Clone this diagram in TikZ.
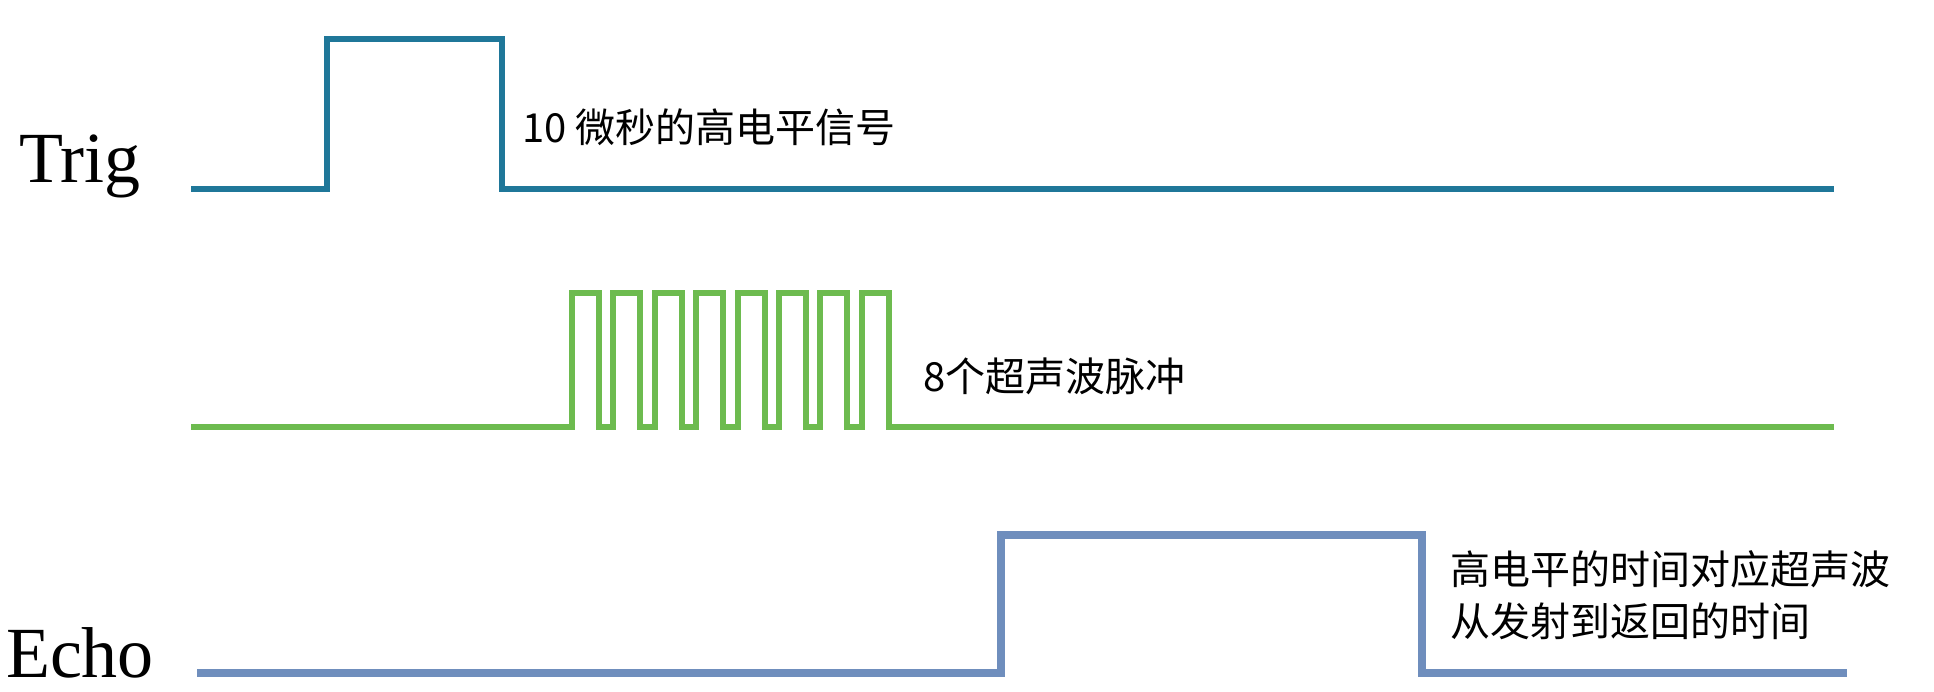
\documentclass[tikz,border=0pt]{standalone}
\usepackage{fontspec}
\setmainfont{Liberation Serif}
\newfontfamily\cjk{Noto Sans CJK SC}
\definecolor{trigc}{HTML}{1F7799}
\definecolor{burstc}{HTML}{6DBB4F}
\definecolor{echoc}{HTML}{6F8EBD}
\begin{document}
\begin{tikzpicture}[x=1pt,y=-1pt,
  sig/.style={line width=#1, line join=miter},
  lbl/.style={font=\fontsize{72}{72}\selectfont, inner sep=0},
  note/.style={font=\cjk\fontsize{40}{52}\selectfont, inner sep=0, anchor=west, align=left}]
\useasboundingbox (0,0) rectangle (1934,692);
\node[lbl] (trig) at (80,166) {Trig};
\node[lbl] (echo) at (80,653) {Echo};
\draw[sig=5.5pt, trigc] (191,189) -- (327,189) -- (327,39) -- (502,39) -- (502,189) -- (1834,189);
\draw[sig=6pt, burstc] (191,427) -- (572,427)
  \foreach \i in {0,...,7} { -- ++(0,-134) -- ++(27,0) -- ++(0,134) -- ++(14.4,0) }
  -- (1834,427);
\draw[sig=8pt, echoc] (197,673) -- (1001,673) -- (1001,535) -- (1422,535) -- (1422,673) -- (1847,673);
\node[note] (t1) at (522,127) {10 微秒的高电平信号};
\node[note] (t2) at (923,376) {8个超声波脉冲};
\node[note] (t3) at (1450,595) {高电平的时间对应超声波\\从发射到返回的时间};
\end{tikzpicture}
\end{document}
